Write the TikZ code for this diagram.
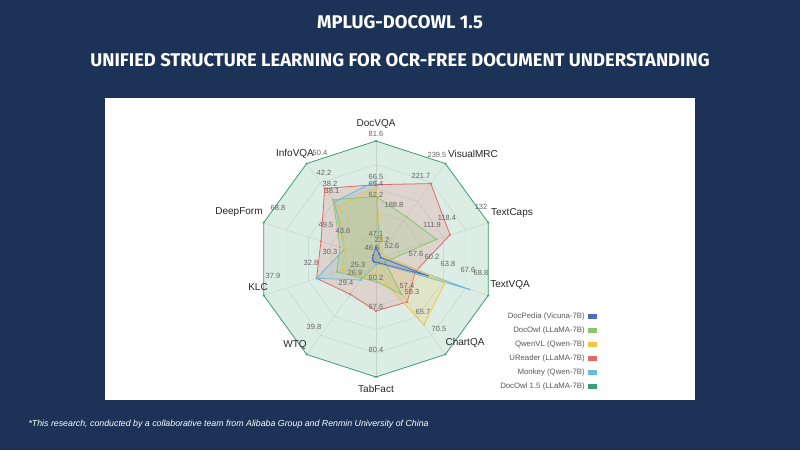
\documentclass[tikz,border=0pt]{standalone}
\usepackage{fontspec}
\usetikzlibrary{calc}
\setmainfont{Liberation Sans}
\newfontfamily\titlefont{Fira Sans}
\begin{document}
\begin{tikzpicture}[x=1pt,y=-1pt,
 lbl/.style={font=\fontsize{7.5}{8}\selectfont,text=black!60,inner sep=0pt},
 ax/.style={font=\fontsize{10}{11}\selectfont,text=black!85,inner sep=0pt},
 leg/.style={font=\fontsize{7.8}{8}\selectfont,text=black!65,anchor=east,inner sep=0pt}]
\definecolor{navy}{HTML}{1C3357}
\definecolor{cblue}{HTML}{4E6BC2}
\definecolor{cgreen}{HTML}{8CC56A}
\definecolor{cyellow}{HTML}{F5C342}
\definecolor{cred}{HTML}{E5676A}
\definecolor{clblue}{HTML}{6CB9DD}
\definecolor{cdgreen}{HTML}{3A9E6E}
\fill[navy] (0,0) rectangle (800,450);
\useasboundingbox (0,0) rectangle (800,450);
\fill[white] (105,98) rectangle (695,400);
\node[font=\titlefont\bfseries\fontsize{18.4}{20}\selectfont,text=white] (t1) at (400,22) {MPLUG-DOCOWL 1.5};
\node[font=\titlefont\bfseries\fontsize{18.4}{20}\selectfont,text=white] (t2) at (400,60) {UNIFIED STRUCTURE LEARNING FOR OCR-FREE DOCUMENT UNDERSTANDING};
\node[font=\itshape\fontsize{8.8}{9}\selectfont,text=white,anchor=west] (fn) at (25,424) {*This research, conducted by a collaborative team from Alibaba Group and Renmin University of China};
\coordinate (C) at (376,259);
\def\R{118}
\def\P#1#2{($(C)+({90-36*(#1)}:{(#2)*\R} and {-(#2)*\R})$)}
% grid
\foreach \f in {0.2,0.4,0.6,0.8}{
 \draw[black!12,line width=0.4pt] \P{0}{\f} \foreach \i in {1,...,9}{ -- \P{\i}{\f} } -- cycle;}
\foreach \i in {0,...,9}{\draw[black!12,line width=0.4pt] (C) -- \P{\i}{1};}
\newcommand\radar[3]{%
 \fill[#1,fill opacity=0.18] \P{0}{#2} \foreach [count=\k] \v in {#3}{ -- \P{\k}{\v} } -- cycle;
 \draw[#1,line width=0.8pt] \P{0}{#2} \foreach [count=\k] \v in {#3}{ -- \P{\k}{\v} } -- cycle;
 \fill[#1] \P{0}{#2} circle (1.1pt);
 \foreach [count=\k] \v in {#3}{\fill[#1] \P{\k}{\v} circle (1.1pt);}}
\radar{cdgreen}{1}{1,1,1,1,1,1,1,1,1}
\radar{cred}{0.63}{0.79,0.66,0.35,0.45,0.44,0.37,0.53,0.49,0.74}
\radar{clblue}{0.66}{0.05,0.05,0.83,0.05,0.05,0.22,0.53,0.28,0.60}
\radar{cyellow}{0.60}{0.08,0.08,0.62,0.69,0.12,0.2,0.3,0.28,0.55}
\radar{cgreen}{0.53}{0.44,0.54,0.08,0.37,0.19,0.2,0.35,0.32,0.62}
\radar{cblue}{0.10}{0.05,0.04,0.46,0.04,0.03,0.03,0.03,0.03,0.04}
% value labels
\foreach \t/\x/\y in {81.6/376/134,66.5/376/177,65.4/376/184,62.2/376/195,239.5/437/155,221.7/421/176,188.8/394/205,132/481/207,118.4/447/218,111.9/432/225,68.8/481/273,67.6/468/270,63.8/448/264,60.2/432/257,57.6/416/254,52.6/392/246,23.2/382/240,47.1/376/234,46.5/372/248,70.5/439/329,65.7/423/312,59.3/412/292,57.4/407/286,60.2/376/278,67.6/376/307,80.4/376/350,25.3/358/265,26.9/355/273,29.4/346/283,39.8/314/327,37.9/273/276,32.8/311/263,30.3/330/252,49.5/326/225,43.6/343/231,38.2/330/184,38.1/332/191,42.2/324/173,50.4/320/153,68.8/278/208}
 \node[lbl] at (\x,\y) {\t};
% axis labels
\node[ax] (a1) at (376,124) {DocVQA};
\node[ax] (a2) at (473,154) {VisualMRC};
\node[ax] (a3) at (512,213) {TextCaps};
\node[ax] (a4) at (510,285) {TextVQA};
\node[ax] (a5) at (465,343) {ChartQA};
\node[ax] (a6) at (376,389) {TabFact};
\node[ax] (a7) at (295,345) {WTQ};
\node[ax] (a8) at (258,287) {KLC};
\node[ax] (a9) at (239,212) {DeepForm};
\node[ax] (a10) at (295,154) {InfoVQA};
% legend
\foreach \t/\c [count=\n from 0] in {DocPedia (Vicuna-7B)/cblue,DocOwl (LLaMA-7B)/cgreen,QwenVL (Qwen-7B)/cyellow,UReader (LLaMA-7B)/cred,Monkey (Qwen-7B)/clblue,DocOwl 1.5 (LLaMA-7B)/cdgreen}{
 \node[leg] (l\n) at (585,{316+14*\n}) {\t};
 \fill[\c] (588,{313.5+14*\n}) rectangle (597,{318.5+14*\n});}
\end{tikzpicture}
\end{document}
